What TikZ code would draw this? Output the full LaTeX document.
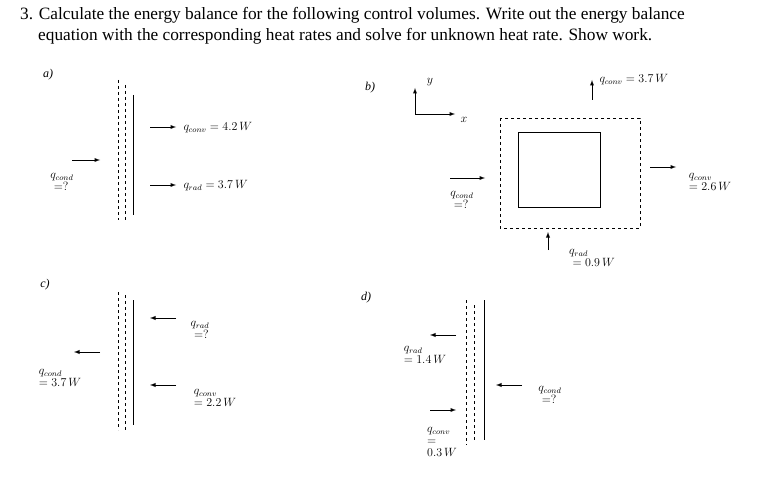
\documentclass[tikz,border=0pt]{standalone}
\usepackage{fontspec}
\setmainfont{Liberation Serif}
\begin{document}
\begin{tikzpicture}[x=1pt,y=-1pt,
  ar/.style={-latex,line width=0.9pt},
  hw/.style={font=\large\itshape,align=left},
  dsh/.style={dashed,line width=0.6pt},
  sl/.style={line width=0.6pt}]
\useasboundingbox (0,0) rectangle (779,492);
\node[anchor=west,font=\fontsize{17.3}{20}\selectfont,inner sep=0] (t1) at (20,15) {3. Calculate the energy balance for the following control volumes. Write out the energy balance};
\node[anchor=west,font=\fontsize{17.3}{20}\selectfont,inner sep=0] (t2) at (38,36) {equation with the corresponding heat rates and solve for unknown heat rate. Show work.};
% a
\node[hw] (la) at (48,75) {a)};
\draw[dsh] (118,80)--(118,220); \draw[dsh] (125,85)--(125,222); \draw[sl] (133,95)--(133,215);
\coordinate (a1) at (150,127); \coordinate (a2) at (176,127); \draw[ar] (a1)--(a2);
\node[hw,anchor=west] (qa1) at (180,128) {$q_{conv}=4.2\,W$};
\coordinate (a3) at (150,185); \coordinate (a4) at (176,185); \draw[ar] (a3)--(a4);
\node[hw,anchor=west] (qa2) at (180,186) {$q_{rad}=3.7\,W$};
\coordinate (a5) at (72,160); \coordinate (a6) at (100,160); \draw[ar] (a5)--(a6);
\node[hw] (qa3) at (62,182) {$q_{cond}$\\[-2pt]$\;=?$};
% b
\node[hw] (lb) at (370,88) {b)};
\coordinate (o) at (415,114); \coordinate (oy) at (415,88); \coordinate (ox) at (455,114);
\draw[ar] (o)--(oy); \draw[ar] (o)--(ox);
\node[hw] (ly) at (430,82) {$y$}; \node[hw] (lx) at (464,120) {$x$};
\draw[dsh] (500,118) rectangle (640,228);
\draw[sl] (518,132) rectangle (600,207);
\coordinate (b1) at (450,178); \coordinate (b2) at (485,178); \draw[ar] (b1)--(b2);
\node[hw] (qb1) at (462,200) {$q_{cond}$\\[-2pt]$\;=?$};
\coordinate (b3) at (592,100); \coordinate (b4) at (592,80); \draw[ar] (b3)--(b4);
\node[hw,anchor=west] (qb2) at (596,80) {$q_{conv}=3.7\,W$};
\coordinate (b5) at (650,167); \coordinate (b6) at (676,167); \draw[ar] (b5)--(b6);
\node[hw] (qb3) at (710,182) {$q_{conv}$\\[-2pt]$=2.6\,W$};
\coordinate (b7) at (548,250); \coordinate (b8) at (548,232); \draw[ar] (b7)--(b8);
\node[hw] (qb4) at (592,258) {$q_{rad}$\\[-2pt]$\;=0.9\,W$};
% c
\node[hw] (lc) at (45,285) {c)};
\draw[dsh] (118,292)--(118,430); \draw[dsh] (125,295)--(125,432); \draw[sl] (133,300)--(133,425);
\coordinate (c1) at (176,318); \coordinate (c2) at (150,318); \draw[ar] (c1)--(c2);
\node[hw] (qc1) at (200,330) {$q_{rad}$\\[-2pt]$\;=?$};
\coordinate (c3) at (176,385); \coordinate (c4) at (150,385); \draw[ar] (c3)--(c4);
\node[hw] (qc2) at (215,398) {$q_{conv}$\\[-2pt]$=2.2\,W$};
\coordinate (c5) at (100,352); \coordinate (c6) at (74,352); \draw[ar] (c5)--(c6);
\node[hw] (qc3) at (60,378) {$q_{cond}$\\[-2pt]$=3.7\,W$};
% d
\node[hw] (ld) at (366,298) {d)};
\draw[dsh] (466,300)--(466,445); \draw[dsh] (474,305)--(474,442); \draw[sl] (484,300)--(484,440);
\coordinate (d1) at (456,335); \coordinate (d2) at (430,335); \draw[ar] (d1)--(d2);
\node[hw] (qd1) at (425,355) {$q_{rad}$\\[-2pt]$=1.4\,W$};
\coordinate (d3) at (430,410); \coordinate (d4) at (456,410); \draw[ar] (d3)--(d4);
\node[hw] (qd2) at (442,442) {$q_{conv}$\\[-2pt]$=$\\[-2pt]$0.3\,W$};
\coordinate (d5) at (522,385); \coordinate (d6) at (496,385); \draw[ar] (d5)--(d6);
\node[hw] (qd3) at (550,395) {$q_{cond}$\\[-2pt]$\;=?$};
\end{tikzpicture}
\end{document}
